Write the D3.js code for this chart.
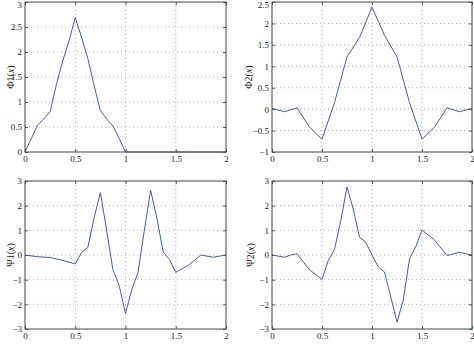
<!DOCTYPE html>
<html>
<head>
<meta charset="utf-8">
<script src="https://cdn.jsdelivr.net/npm/d3@7"></script>
<style>
  body { margin: 0; background: #fff; }
  svg text { font-family: "Liberation Serif", "DejaVu Serif", serif; fill: #222; }
</style>
</head>
<body>
<svg id="chart" width="474" height="351"></svg>
<script>
// scaling functions and wavelets
var phi1X = [0, 0.0625, 0.125, 0.1875, 0.25, 0.3125, 0.375, 0.4375, 0.5, 0.5625, 0.625, 0.6875, 0.75, 0.8125, 0.875, 0.9375, 1, 2];
var phi1Y = [0, 0.27, 0.54, 0.66, 0.81, 1.35, 1.82, 2.22, 2.69, 2.3, 1.87, 1.33, 0.83, 0.66, 0.52, 0.27, 0, 0];

var phi2X = [0, 0.125, 0.25, 0.375, 0.5, 0.625, 0.75, 0.875, 1, 1.125, 1.25, 1.375, 1.5, 1.625, 1.75, 1.875, 2];
var phi2Y = [0.02, -0.06, 0.03, -0.42, -0.7, 0.15, 1.22, 1.67, 2.38, 1.72, 1.22, 0.15, -0.7, -0.42, 0.03, -0.06, 0.02];

var psi1X = [0, 0.125, 0.25, 0.375, 0.5, 0.5625, 0.625, 0.6875, 0.75, 0.8125, 0.875, 0.9375, 1, 1.0625, 1.125, 1.1875, 1.25, 1.3125, 1.375, 1.4375, 1.5, 1.625, 1.75, 1.875, 2];
var psi1Y = [0, -0.07, -0.1, -0.22, -0.36, 0.1, 0.3, 1.5, 2.53, 1.0, -0.6, -1.25, -2.37, -1.4, -0.7, 1.0, 2.62, 1.5, 0.12, -0.18, -0.7, -0.42, 0.0, -0.09, 0];

var psi2X = [0, 0.125, 0.1875, 0.25, 0.375, 0.5, 0.5625, 0.625, 0.6875, 0.75, 0.8125, 0.875, 0.9375, 1, 1.0625, 1.125, 1.1875, 1.25, 1.3125, 1.375, 1.4375, 1.5, 1.625, 1.75, 1.875, 2];
var psi2Y = [0, -0.09, 0, 0.05, -0.6, -0.99, -0.22, 0.22, 1.39, 2.76, 1.86, 0.72, 0.52, 0, -0.49, -0.69, -1.7, -2.73, -1.83, -0.15, 0.34, 1.01, 0.61, -0.02, 0.11, 0];

var xTicks = [0, 0.5, 1, 1.5, 2];
var yTicksA = [0, 0.5, 1, 1.5, 2, 2.5, 3];
var yTicksB = [-1, -0.5, 0, 0.5, 1, 1.5, 2, 2.5];
var yTicksC = [-3, -2, -1, 0, 1, 2, 3];

var panels = [
  { x: phi1X, y: phi1Y, yDom: [0, 3], yTicks: yTicksA, sym: 'Φ1', box: [25, 2, 226, 152], lx: 10 },
  { x: phi2X, y: phi2Y, yDom: [-1, 2.5], yTicks: yTicksB, sym: 'Φ2', box: [272, 2, 472, 152], lx: 248 },
  { x: psi1X, y: psi1Y, yDom: [-3, 3], yTicks: yTicksC, sym: 'Ψ1', box: [25, 181, 226, 329], lx: 10 },
  { x: psi2X, y: psi2Y, yDom: [-3, 3], yTicks: yTicksC, sym: 'Ψ2', box: [272, 181, 472, 329], lx: 250 }
];

var svg = d3.select('#chart');
var fmt = function(d){ return String(d).replace('-', '\u2212'); };

panels.forEach(function(p){
  var x0 = p.box[0], y0 = p.box[1], x1 = p.box[2], y1 = p.box[3];
  var sx = d3.scaleLinear().domain([0, 2]).range([x0, x1]);
  var sy = d3.scaleLinear().domain(p.yDom).range([y1, y0]);
  var g = svg.append('g');

  // dotted grid
  g.selectAll('.gx').data(xTicks.slice(1, -1)).enter().append('line')
    .attr('x1', function(d){ return sx(d); }).attr('x2', function(d){ return sx(d); })
    .attr('y1', y0).attr('y2', y1)
    .attr('stroke', '#9a9a9a').attr('stroke-width', 0.8).attr('stroke-dasharray', '1,3');
  g.selectAll('.gy').data(p.yTicks.slice(1, -1)).enter().append('line')
    .attr('y1', function(d){ return sy(d); }).attr('y2', function(d){ return sy(d); })
    .attr('x1', x0).attr('x2', x1)
    .attr('stroke', '#9a9a9a').attr('stroke-width', 0.8).attr('stroke-dasharray', '1,3');

  // inward ticks on all sides
  var axB = d3.axisBottom(sx).tickValues(xTicks).tickSizeInner(-3).tickSizeOuter(0).tickFormat(fmt);
  var axT = d3.axisTop(sx).tickValues(xTicks).tickSizeInner(-3).tickSizeOuter(0).tickFormat('');
  var axL = d3.axisLeft(sy).tickValues(p.yTicks).tickSizeInner(-3).tickSizeOuter(0).tickFormat(fmt);
  var axR = d3.axisRight(sy).tickValues(p.yTicks).tickSizeInner(-3).tickSizeOuter(0).tickFormat('');

  [[axB, 'translate(0,' + y1 + ')'], [axT, 'translate(0,' + y0 + ')'],
   [axL, 'translate(' + x0 + ',0)'], [axR, 'translate(' + x1 + ',0)']].forEach(function(a){
    var ag = g.append('g').attr('transform', a[1]).call(a[0]);
    ag.select('.domain').remove();
    ag.selectAll('line').attr('stroke', '#555');
    ag.selectAll('text').attr('font-size', 9).attr('fill', '#222')
      .style('font-family', '"Liberation Serif", serif');
  });
  g.selectAll('text').filter(function(){ return this.getAttribute('dy') === '0.71em'; })
    .attr('y', 4);
  g.selectAll('g.tick text').filter(function(){ return this.getAttribute('x') === '-3' || this.getAttribute('x') === '-6'; })
    .attr('x', -3);
  // keep the top label of the upper row inside the page
  if (y0 < 10) {
    g.selectAll('g.tick text').filter(function(d){ return d === p.yTicks[p.yTicks.length - 1] && this.textContent !== ''; })
      .attr('dy', '0.85em').attr('y', -2);
  }

  // the curve
  var pts = p.x.map(function(v, i){ return [v, p.y[i]]; });
  g.append('path').datum(pts)
    .attr('fill', 'none').attr('stroke', '#4a5aa6').attr('stroke-width', 1)
    .attr('d', d3.line().x(function(d){ return sx(d[0]); }).y(function(d){ return sy(d[1]); }));

  // frame
  g.append('rect').attr('x', x0).attr('y', y0).attr('width', x1 - x0).attr('height', y1 - y0)
    .attr('fill', 'none').attr('stroke', '#444').attr('stroke-width', 1);

  // y label
  var lbl = g.append('text')
    .attr('transform', 'translate(' + p.lx + ',' + ((y0 + y1) / 2) + ') rotate(-90)')
    .attr('text-anchor', 'middle').attr('dy', '0.35em').attr('font-size', 10);
  lbl.append('tspan').text(p.sym + '(');
  lbl.append('tspan').attr('font-style', 'italic').text('x');
  lbl.append('tspan').text(')');
});
</script>
</body>
</html>
